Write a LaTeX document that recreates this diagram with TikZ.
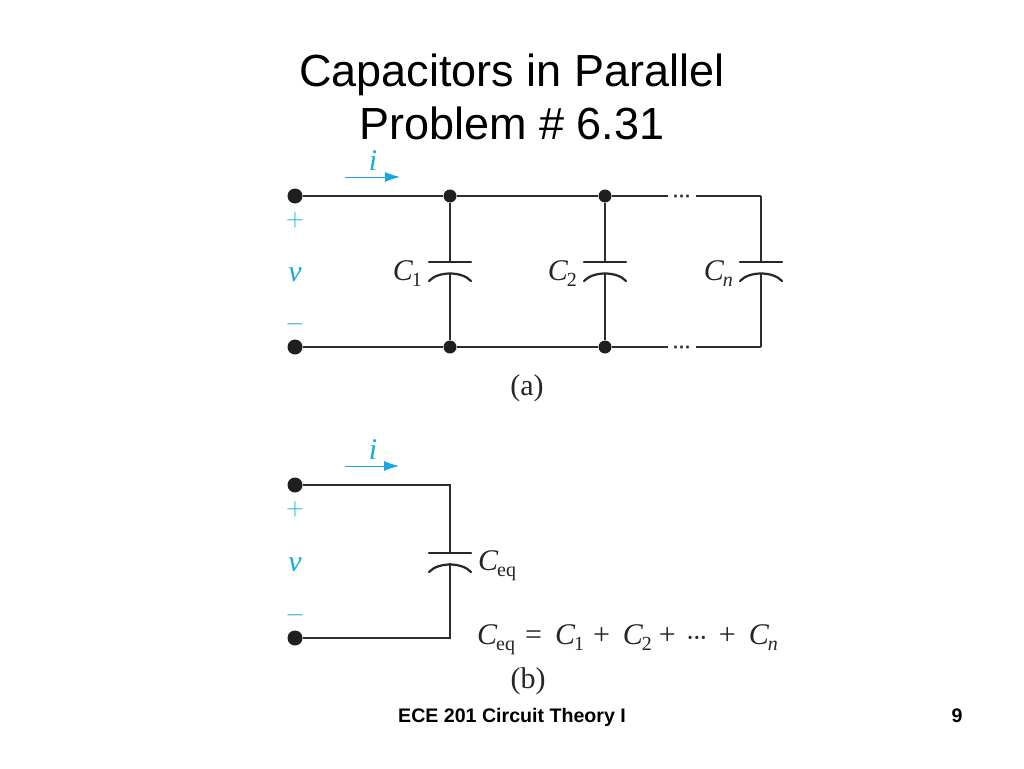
\documentclass[tikz,border=0pt]{standalone}
\usepackage{fontspec}
\setmainfont{Liberation Sans}
\newfontfamily\serifcap{Liberation Serif}
\usetikzlibrary{arrows.meta}

\definecolor{wirecol}{RGB}{45,45,45}
\definecolor{bluecol}{RGB}{20,170,225}

\newcommand{\capsym}[1]{{\itshape C}\kern-1pt\raisebox{-6.5pt}{\fontsize{20}{20}\selectfont #1}}

\tikzset{
  wire/.style={draw=wirecol,line width=1.6pt},
  plate/.style={draw=black!85,line width=2.2pt,line cap=round},
  terminal/.style={circle,fill=black!88,inner sep=0pt,minimum size=15pt},
  junction/.style={circle,fill=black!88,inner sep=0pt,minimum size=13pt},
  current/.style={draw=bluecol,line width=1pt,-{Latex[length=15pt,width=10pt]}},
  bluetext/.style={text=bluecol,inner sep=0pt,anchor=base,font=\serifcap\itshape\fontsize{30}{30}\selectfont},
  bluesign/.style={text=bluecol,inner sep=0pt,font=\fontsize{31}{31}\selectfont},
  captext/.style={text=black!85,inner sep=0pt,font=\serifcap\fontsize{30}{30}\selectfont},
  captiontext/.style={text=black!85,inner sep=0pt,font=\serifcap\fontsize{30}{30}\selectfont},
  gap/.style={inner sep=0pt,minimum width=28pt,text height=12.6pt,text depth=0pt,text=black!85,font=\bfseries\fontsize{18}{18}\selectfont}
}

\begin{document}
\begin{tikzpicture}[x=1pt,y=-1pt]
\useasboundingbox (0,0) rectangle (1024,768);

%title and footer
\node[align=center,font=\fontsize{45}{53}\selectfont] (title) at (512,97) {Capacitors in Parallel\\Problem \# 6.31};
\node[anchor=base,font=\bfseries\fontsize{19.6}{20}\selectfont] (footer) at (512,722) {ECE 201 Circuit Theory I};
\node[anchor=base,font=\bfseries\fontsize{19.6}{20}\selectfont] (page) at (957,722) {9};

%circuit (a): terminals and junctions
\node[terminal] (a1) at (295,196) {};
\node[terminal] (a2) at (295,347) {};
\node[junction] (j1t) at (450,196) {};
\node[junction] (j1b) at (450,347) {};
\node[junction] (j2t) at (605,196) {};
\node[junction] (j2b) at (605,347) {};
\node[gap] (dotst) at (682,196) {\textperiodcentered\textperiodcentered\textperiodcentered};
\node[gap] (dotsb) at (682,347) {\textperiodcentered\textperiodcentered\textperiodcentered};
\coordinate (j3t) at (761,196);
\coordinate (j3b) at (761,347);

\draw[wire] (a1) -- (j1t) -- (j2t) -- (dotst);
\draw[wire] (dotst) -- (j3t);
\draw[wire] (a2) -- (j1b) -- (j2b) -- (dotsb);
\draw[wire] (dotsb) -- (j3b);

%the three capacitors of (a)
\foreach \n/\x/\lab in {1/450/1,2/605/2,3/761/\itshape n}{
  \coordinate (c\n t) at (\x,262);
  \coordinate (c\n b) at (\x,273);
  \draw[wire] (j\n t) -- (c\n t);
  \draw[wire] (j\n b) -- (c\n b);
  \draw[plate] ([xshift=-21pt]c\n t) -- ([xshift=21pt]c\n t);
  \draw[plate] ([shift={(-21,8)}]c\n b) .. controls +(9,-10) and +(-9,-10) .. ([shift={(21,8)}]c\n b);
  \node[captext,anchor=base east] (lab\n) at (\x-28,280) {\capsym{\lab}};
}

\coordinate (ia1) at (345,177);
\coordinate (ia2) at (400,177);
\draw[current] (ia1) -- (ia2);
\node[bluetext] (ia) at (373,170) {i};
\node[bluesign] (pa) at (295,220) {$+$};
\node[bluetext] (va) at (295,281) {v};
\node[bluesign] (ma) at (295,324) {$-$};
\node[captiontext] (capa) at (527,388) {(a)};

%circuit (b)
\node[terminal] (b1) at (295,485) {};
\node[terminal] (b2) at (295,638) {};
\coordinate (kt) at (450,485);
\coordinate (kb) at (450,638);
\coordinate (ct) at (450,553);
\coordinate (cb) at (450,563);

\draw[wire] (b1) -- (kt) -- (ct);
\draw[wire] (b2) -- (kb) -- (cb);
\draw[plate] ([xshift=-21pt]ct) -- ([xshift=21pt]ct);
\draw[plate] ([shift={(-21,9)}]cb) .. controls +(9,-10) and +(-9,-10) .. ([shift={(21,9)}]cb);
\node[captext,anchor=base west] (labeq) at (478,570) {\capsym{eq}};

\coordinate (ib1) at (345,466);
\coordinate (ib2) at (399,466);
\draw[current] (ib1) -- (ib2);
\node[bluetext] (ib) at (373,459) {i};
\node[bluesign] (pb) at (295,509) {$+$};
\node[bluetext] (vb) at (295,571) {v};
\node[bluesign] (mb) at (295,615) {$-$};

\node[captext,anchor=base west] (eqn) at (477,644) {\capsym{eq}\kern10pt=\kern13pt\capsym{1}\kern9pt+\kern13pt\capsym{2}\kern7pt+\kern11pt{\bfseries\fontsize{20}{20}\selectfont\textperiodcentered\textperiodcentered\textperiodcentered}\kern12pt+\kern13pt\capsym{\itshape n}};
\node[captiontext] (capb) at (528,681) {(b)};

\end{tikzpicture}
\end{document}
